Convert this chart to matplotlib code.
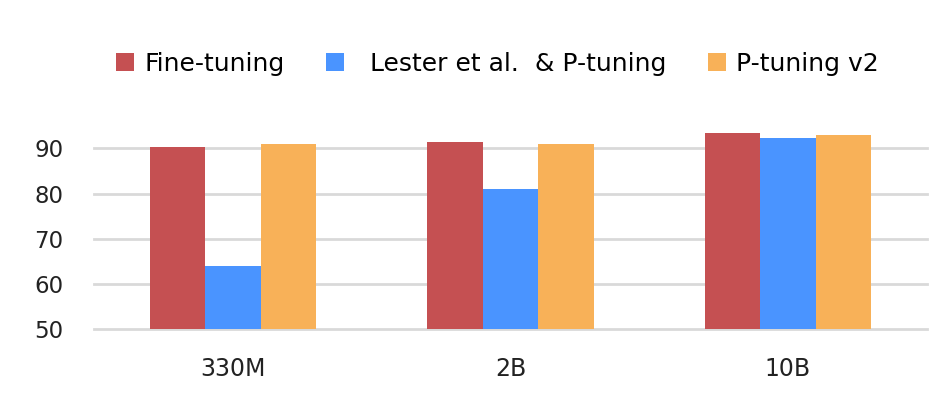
import matplotlib

matplotlib.use("Agg")
import matplotlib.pyplot as plt
import numpy as np
from matplotlib.patches import Patch

# Data
categories = ["330M", "2B", "10B"]
series_names = ["Fine-tuning", "  Lester et al.  & P-tuning", "P-tuning v2"]
fine_tuning = [90.3, 91.5, 93.4]
lester_ptuning = [64.1, 81.0, 92.2]
ptuning_v2 = [90.9, 90.9, 92.9]
y_ticks = [50, 60, 70, 80, 90]

COLOURS = ["#c55052", "#4a94ff", "#f8b158"]
GRID = "#d9d9d9"

fig = plt.figure(figsize=(9.42, 4.17), dpi=100)
ax = fig.add_axes([0.0998, 0.2103, 0.884, 0.488])

x = np.arange(len(categories))
width = 0.2
for i, (vals, name) in enumerate(zip([fine_tuning, lester_ptuning, ptuning_v2], series_names)):
    ax.bar(x + (i - 1) * width, vals, width, color=COLOURS[i], label=name, zorder=3)

ax.set_xlim(-0.5, len(categories) - 0.5)
ax.set_ylim(50, 95)
ax.set_yticks(y_ticks)
ax.set_xticks(x)
ax.set_xticklabels(categories, fontsize=17)
ax.tick_params(axis="y", length=0, pad=22, labelsize=16.5)
ax.tick_params(axis="x", length=0, pad=20)
for label in ax.get_yticklabels() + ax.get_xticklabels():
    label.set_color("#222222")
for spine in ax.spines.values():
    spine.set_visible(False)
ax.yaxis.grid(True, color=GRID, linewidth=2, zorder=0)
for line in ax.get_ygridlines():
    line.set_clip_on(False)

handles = [Patch(facecolor=c, edgecolor="none") for c in COLOURS]
fig.legend(
    handles,
    series_names,
    loc="center",
    bbox_to_anchor=(0.528, 0.847),
    ncol=3,
    frameon=False,
    fontsize=18,
    handlelength=0.72,
    handleheight=0.72,
    handletextpad=0.4,
    columnspacing=1.65,
)

fig.savefig("out.png", dpi=100, facecolor="white")
plt.close(fig)
